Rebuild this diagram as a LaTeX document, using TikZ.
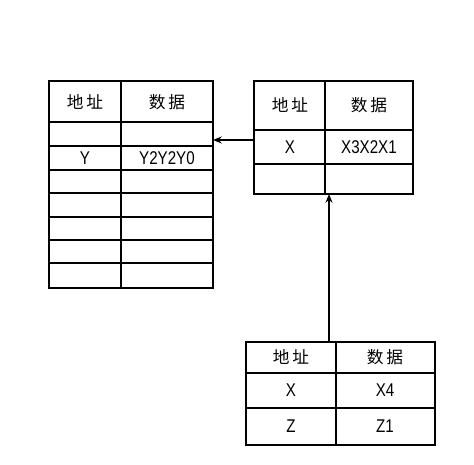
\documentclass[tikz,border=0pt]{standalone}
\usepackage{fontspec}
\setmainfont{Liberation Sans}[FakeStretch=0.82]
\newfontfamily\cjk{Noto Sans CJK SC}
\usetikzlibrary{arrows.meta}

\newcommand{\dizhi}{{\cjk\fontsize{9.5}{10}\selectfont 地\hspace{1.5pt}址}}
\newcommand{\shuju}{{\cjk\fontsize{9.5}{10}\selectfont 数\hspace{1.5pt}据}}

\begin{document}
\begin{tikzpicture}[x=0.02cm, y=-0.02cm, >={Stealth[length=5pt,width=4pt]}, line width=1.1pt,
    cell/.style={font=\fontsize{10.5}{11}\selectfont, inner sep=0pt}]
    \useasboundingbox (0,0) rectangle (474,465);

    % Table on the left
    \draw (49,81) rectangle (213,288);
    \draw (121,81) -- (121,288);
    \foreach \y in {122,146,170,193,217,240,263} \draw (49,\y) -- (213,\y);
    \node[cell] (la) at (85,102) {\dizhi};
    \node[cell] (ld) at (167,102) {\shuju};
    \node[cell] (ly) at (85,158) {Y};
    \node[cell] (lv) at (167,158) {Y2Y2Y0};
    \coordinate (le) at (213,140);

    % Table on the upper right
    \draw (254,81) rectangle (413,194);
    \draw (325,81) -- (325,194);
    \foreach \y in {130,164} \draw (254,\y) -- (413,\y);
    \node[cell] (ma) at (290,105) {\dizhi};
    \node[cell] (md) at (369,105) {\shuju};
    \node[cell] (mx) at (290,147) {X};
    \node[cell] (mv) at (369,147) {X3X2X1};
    \coordinate (mw) at (254,140);
    \coordinate (ms) at (329,194);

    % Table at the bottom
    \draw (246,342) rectangle (435,445);
    \draw (336,342) -- (336,445);
    \foreach \y in {373,408} \draw (246,\y) -- (435,\y);
    \node[cell] (ba) at (291,357) {\dizhi};
    \node[cell] (bd) at (385,357) {\shuju};
    \node[cell] (bx) at (291,390) {X};
    \node[cell] (bv) at (385,390) {X4};
    \node[cell] (bz) at (291,426) {Z};
    \node[cell] (bw) at (385,426) {Z1};
    \coordinate (bn) at (329,342);

    % Pointers
    \draw[->] (mw) -- (le);
    \draw[->] (bn) -- (ms);
\end{tikzpicture}
\end{document}
